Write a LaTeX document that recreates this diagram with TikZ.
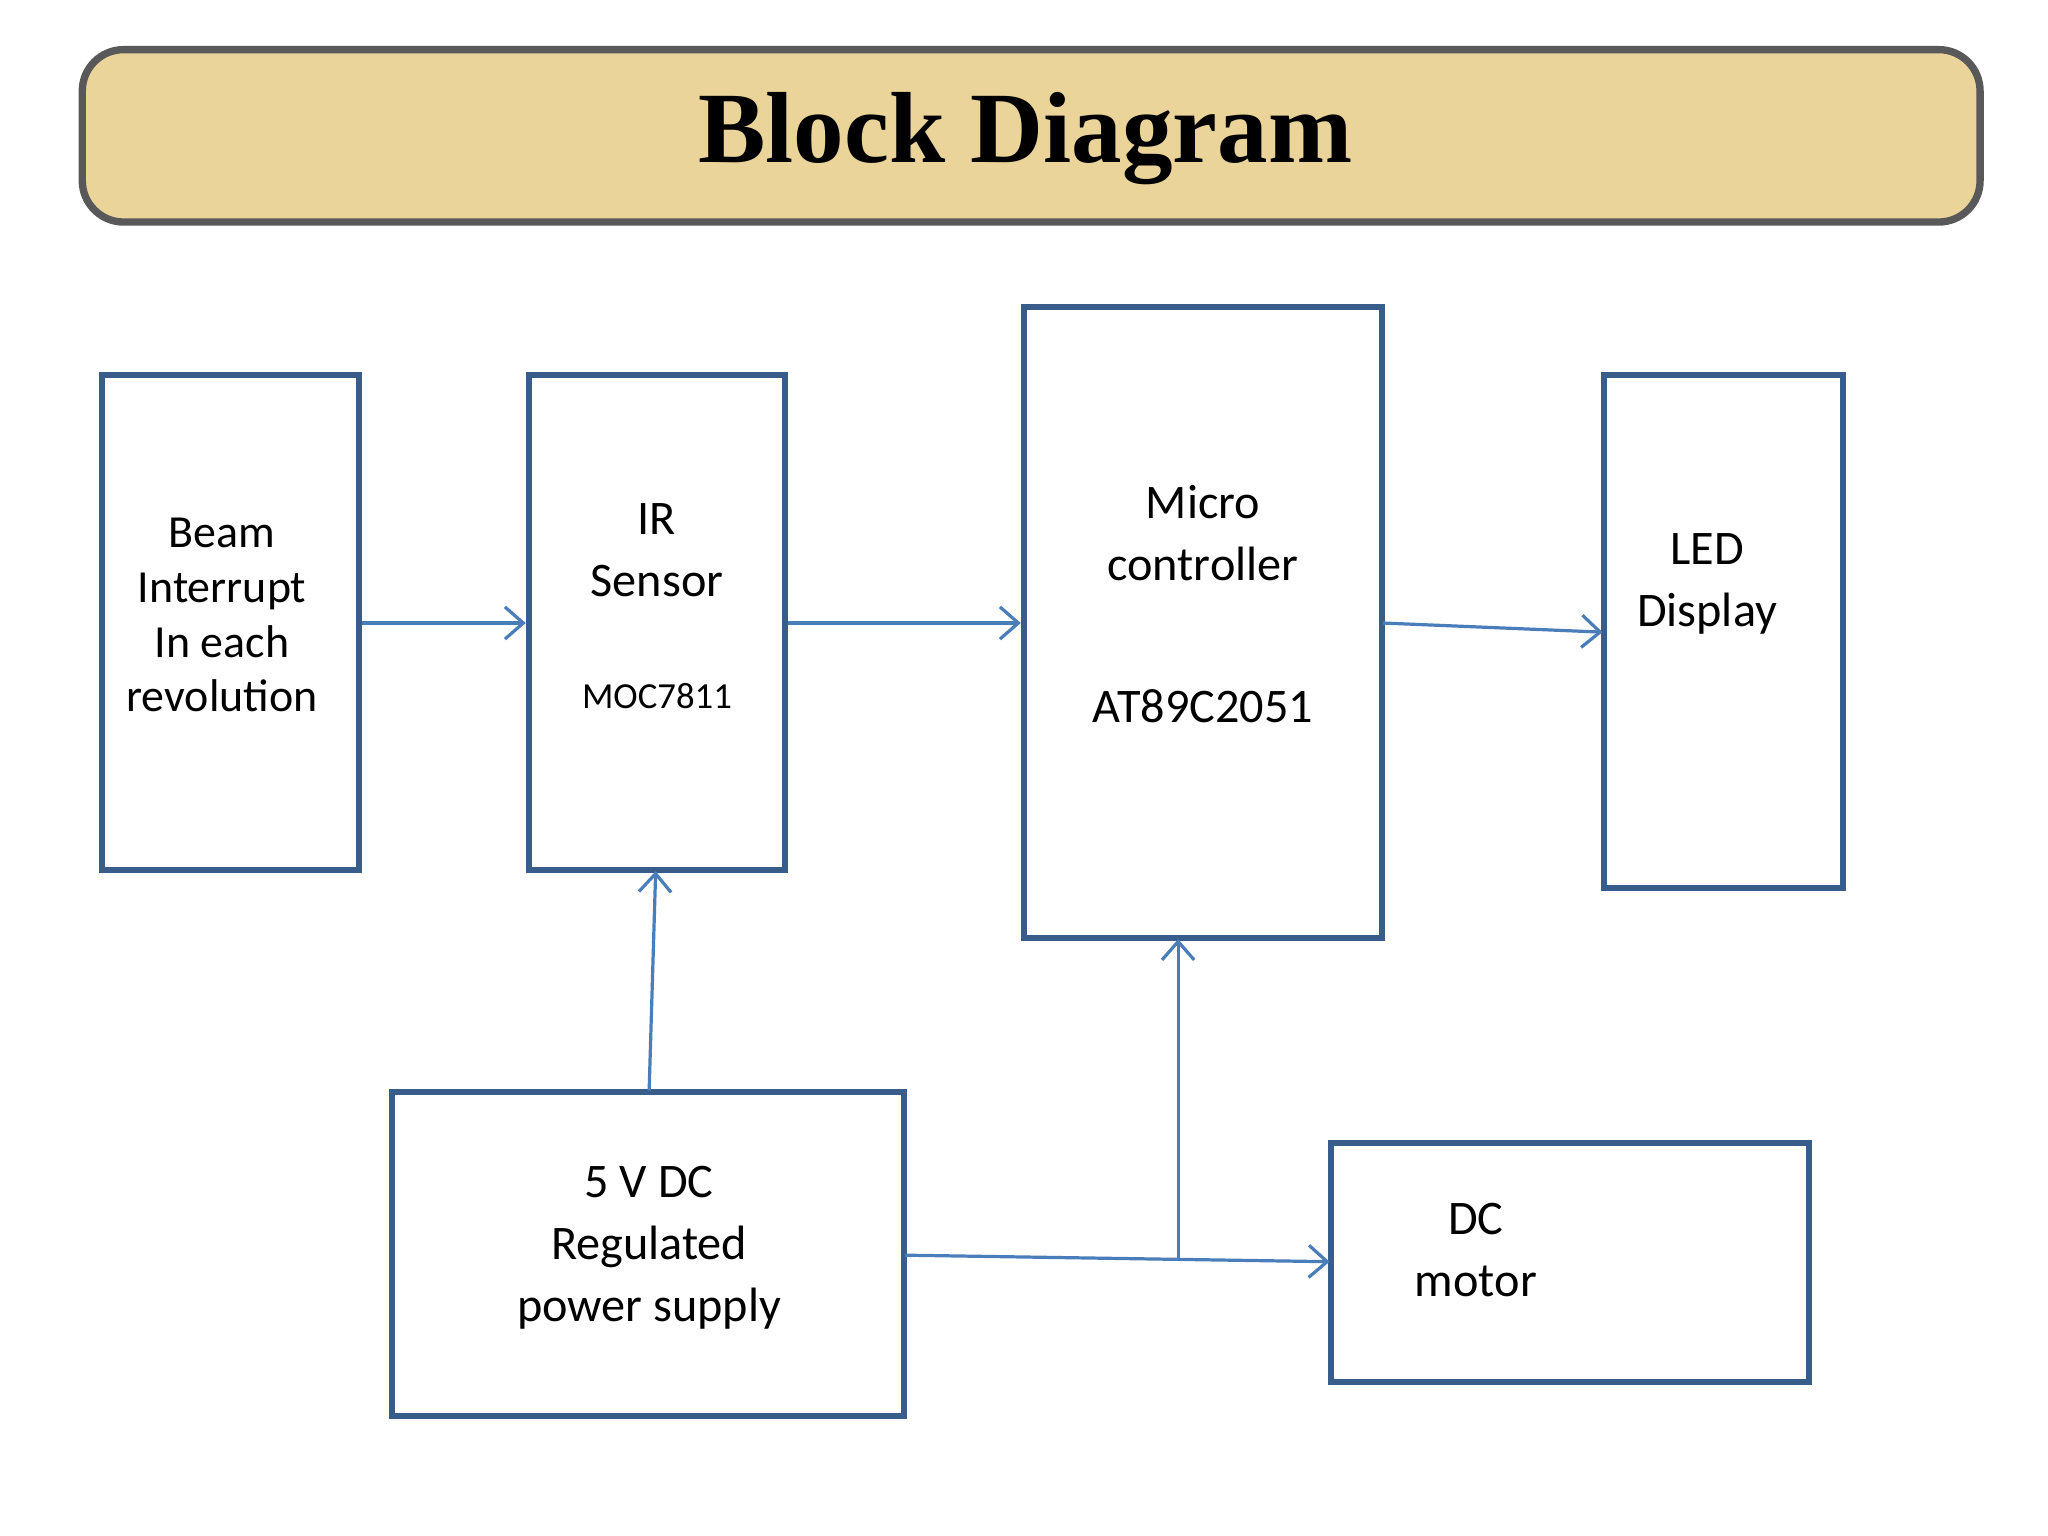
\documentclass[tikz,border=0pt]{standalone}
\usepackage{fontspec}
\setmainfont{Carlito}
\newfontfamily\titlefont{Liberation Serif}
\definecolor{boxc}{HTML}{385D8A}
\definecolor{conc}{HTML}{4A7EBB}
\definecolor{banner}{HTML}{EBD49A}
\usetikzlibrary{arrows.meta}
\begin{document}
\begin{tikzpicture}[x=0.01cm,y=-0.01cm,
  box/.style={draw=boxc,line width=1.4pt,inner sep=0pt},
  conn/.style={draw=conc,line width=0.7pt,->,>={Straight Barb[length=4pt,width=7pt]}},
  lbl/.style={align=center,font=\fontsize{10.5}{13.5}\selectfont}]
\useasboundingbox (0,0) rectangle (1568,1176);
\fill[white] (0,0) rectangle (1568,1176);
\node[draw=black!65,line width=1.6pt,fill=banner,rounded corners=9pt,minimum width=1453*0.01cm,minimum height=132*0.01cm] (title) at (789.5,104) {};
\node[font=\titlefont\bfseries\fontsize{22}{26}\selectfont] (tt) at (785,106) {Block Diagram};
\node[box,minimum width=197*0.01cm,minimum height=379*0.01cm] (beam) at (176.5,476.5) {};
\node[box,minimum width=196*0.01cm,minimum height=379*0.01cm] (ir) at (503,476.5) {};
\node[box,minimum width=274*0.01cm,minimum height=483*0.01cm] (mc) at (921,476.5) {};
\node[box,minimum width=183*0.01cm,minimum height=393*0.01cm] (led) at (1319.5,483.5) {};
\node[box,minimum width=392*0.01cm,minimum height=248*0.01cm] (ps) at (496,960) {};
\node[box,minimum width=366*0.01cm,minimum height=183*0.01cm] (dc) at (1202,966.5) {};
\node[lbl,font=\fontsize{10}{11.9}\selectfont] (t1) at (170,471) {Beam\\Interrupt\\In each\\revolution};
\node[lbl] (t2) at (503,421) {IR\\Sensor};
\node[lbl,font=\fontsize{8}{10}\selectfont] (t3) at (503,533) {MOC7811};
\node[lbl] (t4) at (921,408) {Micro\\controller};
\node[lbl] (t5) at (921,541) {AT89C2051};
\node[lbl] (t6) at (1307,447) {LED\\Display};
\node[lbl] (t7) at (497,955) {5 V DC\\Regulated\\power supply};
\node[lbl] (t8) at (1130,957) {DC\\motor};
\coordinate (j) at (902,964);
\draw[conn] (beam.east |- 0,477) -- (ir.west |- 0,477);
\draw[conn] (ir.east |- 0,477) -- (mc.west |- 0,477);
\draw[conn] (1059,477) -- (1227,484);
\draw[conn] (497,835) -- (502,667);
\draw[conn] (693,961) -- (1018,966);
\draw[conn] (j) -- (902,719);
\end{tikzpicture}
\end{document}
